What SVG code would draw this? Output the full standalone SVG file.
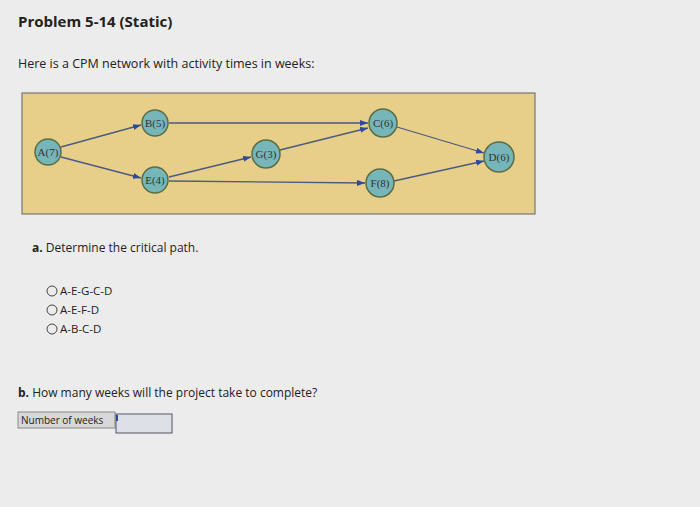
<svg xmlns="http://www.w3.org/2000/svg" width="700" height="507" viewBox="0 0 700 507">
<style>
.n circle{fill:#76b6b8;stroke:#5a6e45;stroke-width:1.5}
.n text{font-family:"Liberation Serif",serif;font-size:11px;fill:#333;text-anchor:middle}
.c line{stroke:#4a5a80;stroke-width:1.3;marker-end:url(#ah)}
.t{font-family:"Open Sans","Liberation Sans",sans-serif;fill:#222}
</style>
<defs><marker id="ah" markerWidth="8" markerHeight="6" refX="8" refY="3" orient="auto" markerUnits="userSpaceOnUse"><path d="M0,0L8,3L0,6z" fill="#2f4a9a"/></marker></defs>
<rect width="700" height="507" fill="#ececec"/>
<text class="t" x="18" y="27" font-size="15" font-weight="bold">Problem 5-14 (Static)</text>
<text class="t" x="18" y="68" font-size="12.5">Here is a CPM network with activity times in weeks:</text>
<rect x="22" y="93" width="513" height="121" fill="#e7cf8a" stroke="#777" stroke-width="1.2"/>
<g class="c">
<line x1="61" y1="147" x2="141" y2="125"/>
<line x1="61" y1="157" x2="141" y2="178"/>
<line x1="169" y1="123" x2="368" y2="123"/>
<line x1="169" y1="177" x2="251" y2="157"/>
<line x1="169" y1="181" x2="365" y2="183"/>
<line x1="280" y1="150" x2="368" y2="128"/>
<line x1="397" y1="127" x2="484" y2="153"/>
<line x1="394" y1="181" x2="484" y2="161"/>
</g>
<g id="A" class="n"><circle cx="48" cy="152" r="13"/><text x="48" y="156">A(7)</text></g>
<g id="B" class="n"><circle cx="155" cy="123" r="13"/><text x="155" y="127">B(5)</text></g>
<g id="E" class="n"><circle cx="155" cy="180" r="13"/><text x="155" y="184">E(4)</text></g>
<g id="G" class="n"><circle cx="266" cy="154" r="14"/><text x="266" y="158">G(3)</text></g>
<g id="C" class="n"><circle cx="383" cy="123" r="14"/><text x="383" y="127">C(6)</text></g>
<g id="F" class="n"><circle cx="380" cy="183" r="14"/><text x="380" y="187">F(8)</text></g>
<g id="D" class="n"><circle cx="499" cy="157" r="15"/><text x="499" y="161">D(6)</text></g>
<text class="t" x="32" y="252" font-size="12"><tspan font-weight="bold">a.</tspan> Determine the critical path.</text>
<g class="t" font-size="11.5">
<circle cx="52" cy="291" r="5" fill="none" stroke="#444"/><text x="60" y="295">A-E-G-C-D</text>
<circle cx="52" cy="310" r="5" fill="none" stroke="#444"/><text x="60" y="314">A-E-F-D</text>
<circle cx="52" cy="329" r="5" fill="none" stroke="#444"/><text x="60" y="333">A-B-C-D</text>
</g>
<text class="t" x="18" y="397" font-size="12"><tspan font-weight="bold">b.</tspan> How many weeks will the project take to complete?</text>
<rect x="18" y="412" width="97" height="16" fill="#d8d8d8" stroke="#888"/>
<text class="t" x="21" y="424" font-size="10">Number of weeks</text>
<rect x="116" y="414" width="56" height="19" fill="#dde0e6" stroke="#556"/>
<line x1="117" y1="415" x2="117" y2="421" stroke="#2f4a9a" stroke-width="2"/>
</svg>
